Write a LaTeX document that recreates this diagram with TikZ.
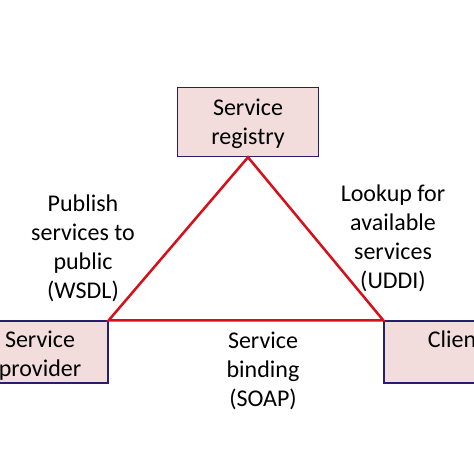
\documentclass[tikz,border=0pt]{standalone}
\usepackage{fontspec}
\setmainfont{Carlito}
\definecolor{boxfill}{RGB}{242,220,220}
\definecolor{boxdraw}{RGB}{40,30,110}
\definecolor{linered}{RGB}{215,15,25}
\tikzset{
  box/.style={draw=boxdraw, fill=boxfill, line width=1.5pt, inner sep=0pt, align=center, font=\fontsize{24}{29}\selectfont},
  lbl/.style={align=center, inner sep=0pt, font=\fontsize{24}{29}\selectfont},
  edge/.style={draw=linered, line width=2.5pt}
}
\begin{document}
\begin{tikzpicture}[x=1pt,y=-1pt]
\useasboundingbox (0,0) rectangle (474,474);
\clip (0,0) rectangle (474,474);
\fill[white] (0,0) rectangle (474,474);
\node[box, minimum width=141pt, minimum height=69pt] (reg) at (248,122) {};
\node[lbl] (regtext) at (248,124) {Service\\registry};
\node[box, minimum width=136pt, minimum height=62pt] (prov) at (40,352) {};
\node[lbl] (provtext) at (40,356) {Service\\provider};
\node[box, minimum width=144pt, minimum height=62pt] (cli) at (456,352) {};
\node[lbl] (clitext) at (456,339) {Client};
\draw[edge] (reg.south) -- (prov.north east) -- (cli.north west) -- cycle;
\node[lbl] (pub) at (83,248.5) {Publish\\services to\\public\\(WSDL)};
\node[lbl] (look) at (393,238.5) {Lookup for\\available\\services\\(UDDI)};
\node[lbl] (bind) at (263,371) {Service\\binding\\(SOAP)};
\end{tikzpicture}
\end{document}
